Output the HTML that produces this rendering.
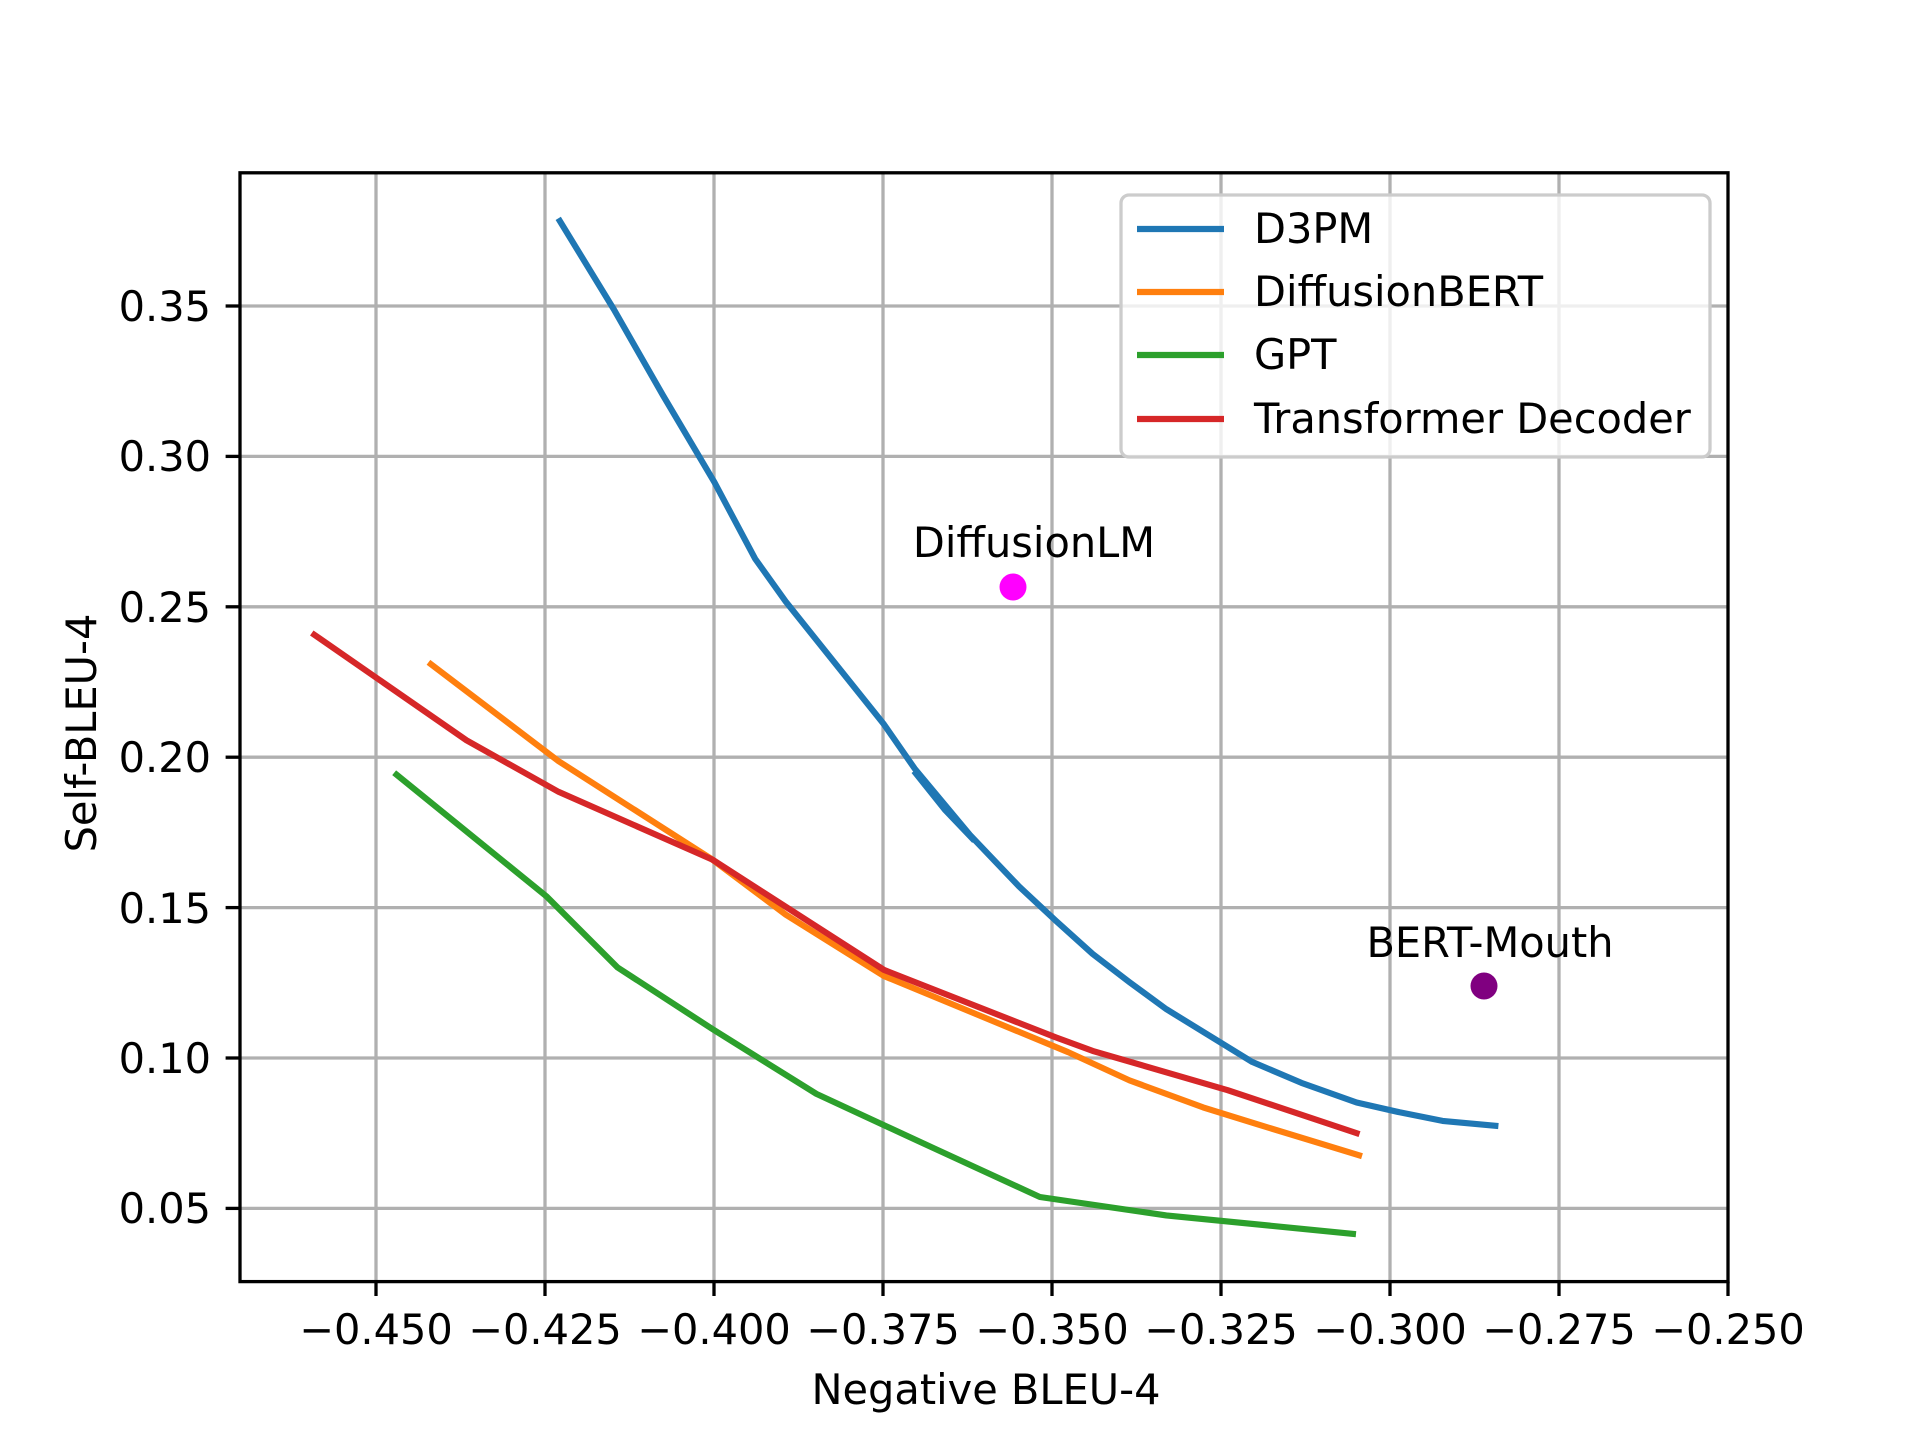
<!DOCTYPE html>
<html><head><meta charset="utf-8"><style>html,body{margin:0;padding:0;background:#fff}svg{display:block}text{font-family:"DejaVu Sans","Liberation Sans",sans-serif;fill:#000}</style></head>
<body>
<svg width="1920" height="1440" viewBox="0 0 1920 1440" xmlns="http://www.w3.org/2000/svg">
<rect width="1920" height="1440" fill="#fff"/>
<g stroke="#b0b0b0" stroke-width="3.3">
<line x1="376" y1="172.8" x2="376" y2="1281.6"/><line x1="545" y1="172.8" x2="545" y2="1281.6"/><line x1="714" y1="172.8" x2="714" y2="1281.6"/><line x1="883" y1="172.8" x2="883" y2="1281.6"/><line x1="1052" y1="172.8" x2="1052" y2="1281.6"/><line x1="1221" y1="172.8" x2="1221" y2="1281.6"/><line x1="1390" y1="172.8" x2="1390" y2="1281.6"/><line x1="1559" y1="172.8" x2="1559" y2="1281.6"/>
<line x1="240" y1="306" x2="1728" y2="306"/><line x1="240" y1="456.4" x2="1728" y2="456.4"/><line x1="240" y1="606.8" x2="1728" y2="606.8"/><line x1="240" y1="757.2" x2="1728" y2="757.2"/><line x1="240" y1="907.6" x2="1728" y2="907.6"/><line x1="240" y1="1058" x2="1728" y2="1058"/><line x1="240" y1="1208.4" x2="1728" y2="1208.4"/>
</g>
<g transform="scale(1.2277)" fill="none" stroke-width="5" stroke-linejoin="round" stroke-linecap="square">
<polyline stroke="#1f77b4" points="456,180 500,252 540,322 582,393 615,455 640,490 720,590 745,626 790,680 830,722 860,750 890,777 920,800 950,822 1020,865 1060,882 1105,898 1140,906 1175,913 1218,917"/>
<polyline stroke="#1f77b4" points="746,630 770,660 792,683"/>
<polyline stroke="#ff7f0e" points="351,541 455,620 580,700 640,745 720,795 795,826 870,857 920,880 980,902 1025,916 1107,941"/>
<polyline stroke="#2ca02c" points="323,631 445,730 503,788 580,838 665,891 760,935 847,975 950,990 1102,1005"/>
<polyline stroke="#d62728" points="256,517 380,603 455,645 580,700 720,790 860,845 890,856 1000,888 1105,923"/>
</g>
<circle cx="1013" cy="587" r="13.5" fill="#ff00ff"/>
<circle cx="1484" cy="986" r="13.5" fill="#800080"/>
<text x="1034" y="557" font-size="41.5" text-anchor="middle">DiffusionLM</text>
<text x="1490" y="957" font-size="41.5" text-anchor="middle">BERT-Mouth</text>
<rect x="240" y="172.8" width="1488" height="1108.8" fill="none" stroke="#000" stroke-width="3.3"/>
<g stroke="#000" stroke-width="3.3">
<line x1="376" y1="1281.6" x2="376" y2="1296"/><line x1="545" y1="1281.6" x2="545" y2="1296"/><line x1="714" y1="1281.6" x2="714" y2="1296"/><line x1="883" y1="1281.6" x2="883" y2="1296"/><line x1="1052" y1="1281.6" x2="1052" y2="1296"/><line x1="1221" y1="1281.6" x2="1221" y2="1296"/><line x1="1390" y1="1281.6" x2="1390" y2="1296"/><line x1="1559" y1="1281.6" x2="1559" y2="1296"/><line x1="1728" y1="1281.6" x2="1728" y2="1296"/>
<line x1="225.6" y1="306" x2="240" y2="306"/><line x1="225.6" y1="456.4" x2="240" y2="456.4"/><line x1="225.6" y1="606.8" x2="240" y2="606.8"/><line x1="225.6" y1="757.2" x2="240" y2="757.2"/><line x1="225.6" y1="907.6" x2="240" y2="907.6"/><line x1="225.6" y1="1058" x2="240" y2="1058"/><line x1="225.6" y1="1208.4" x2="240" y2="1208.4"/>
</g>
<g font-size="41.5" text-anchor="middle">
<text x="376" y="1344">−0.450</text><text x="545" y="1344">−0.425</text><text x="714" y="1344">−0.400</text><text x="883" y="1344">−0.375</text><text x="1052" y="1344">−0.350</text><text x="1221" y="1344">−0.325</text><text x="1390" y="1344">−0.300</text><text x="1559" y="1344">−0.275</text><text x="1728" y="1344">−0.250</text>
</g>
<g font-size="41.5" text-anchor="end">
<text x="211" y="321">0.35</text><text x="211" y="471">0.30</text><text x="211" y="622">0.25</text><text x="211" y="772">0.20</text><text x="211" y="923">0.15</text><text x="211" y="1073">0.10</text><text x="211" y="1223">0.05</text>
</g>
<text x="986" y="1404" font-size="41.5" text-anchor="middle">Negative BLEU-4</text>
<text x="0" y="0" font-size="41.5" text-anchor="middle" transform="translate(96,733) rotate(-90)">Self-BLEU-4</text>
<rect x="1121" y="195" width="589" height="262" rx="8" fill="#fff" fill-opacity="0.8" stroke="#cccccc" stroke-width="3.3"/>
<g stroke-width="6.25">
<line x1="1137" y1="229" x2="1224" y2="229" stroke="#1f77b4"/>
<line x1="1137" y1="292" x2="1224" y2="292" stroke="#ff7f0e"/>
<line x1="1137" y1="355" x2="1224" y2="355" stroke="#2ca02c"/>
<line x1="1137" y1="419" x2="1224" y2="419" stroke="#d62728"/>
</g>
<g font-size="41.5">
<text x="1254" y="243">D3PM</text><text x="1254" y="306">DiffusionBERT</text><text x="1254" y="369">GPT</text><text x="1254" y="433">Transformer Decoder</text>
</g>
</svg>
</body></html>
